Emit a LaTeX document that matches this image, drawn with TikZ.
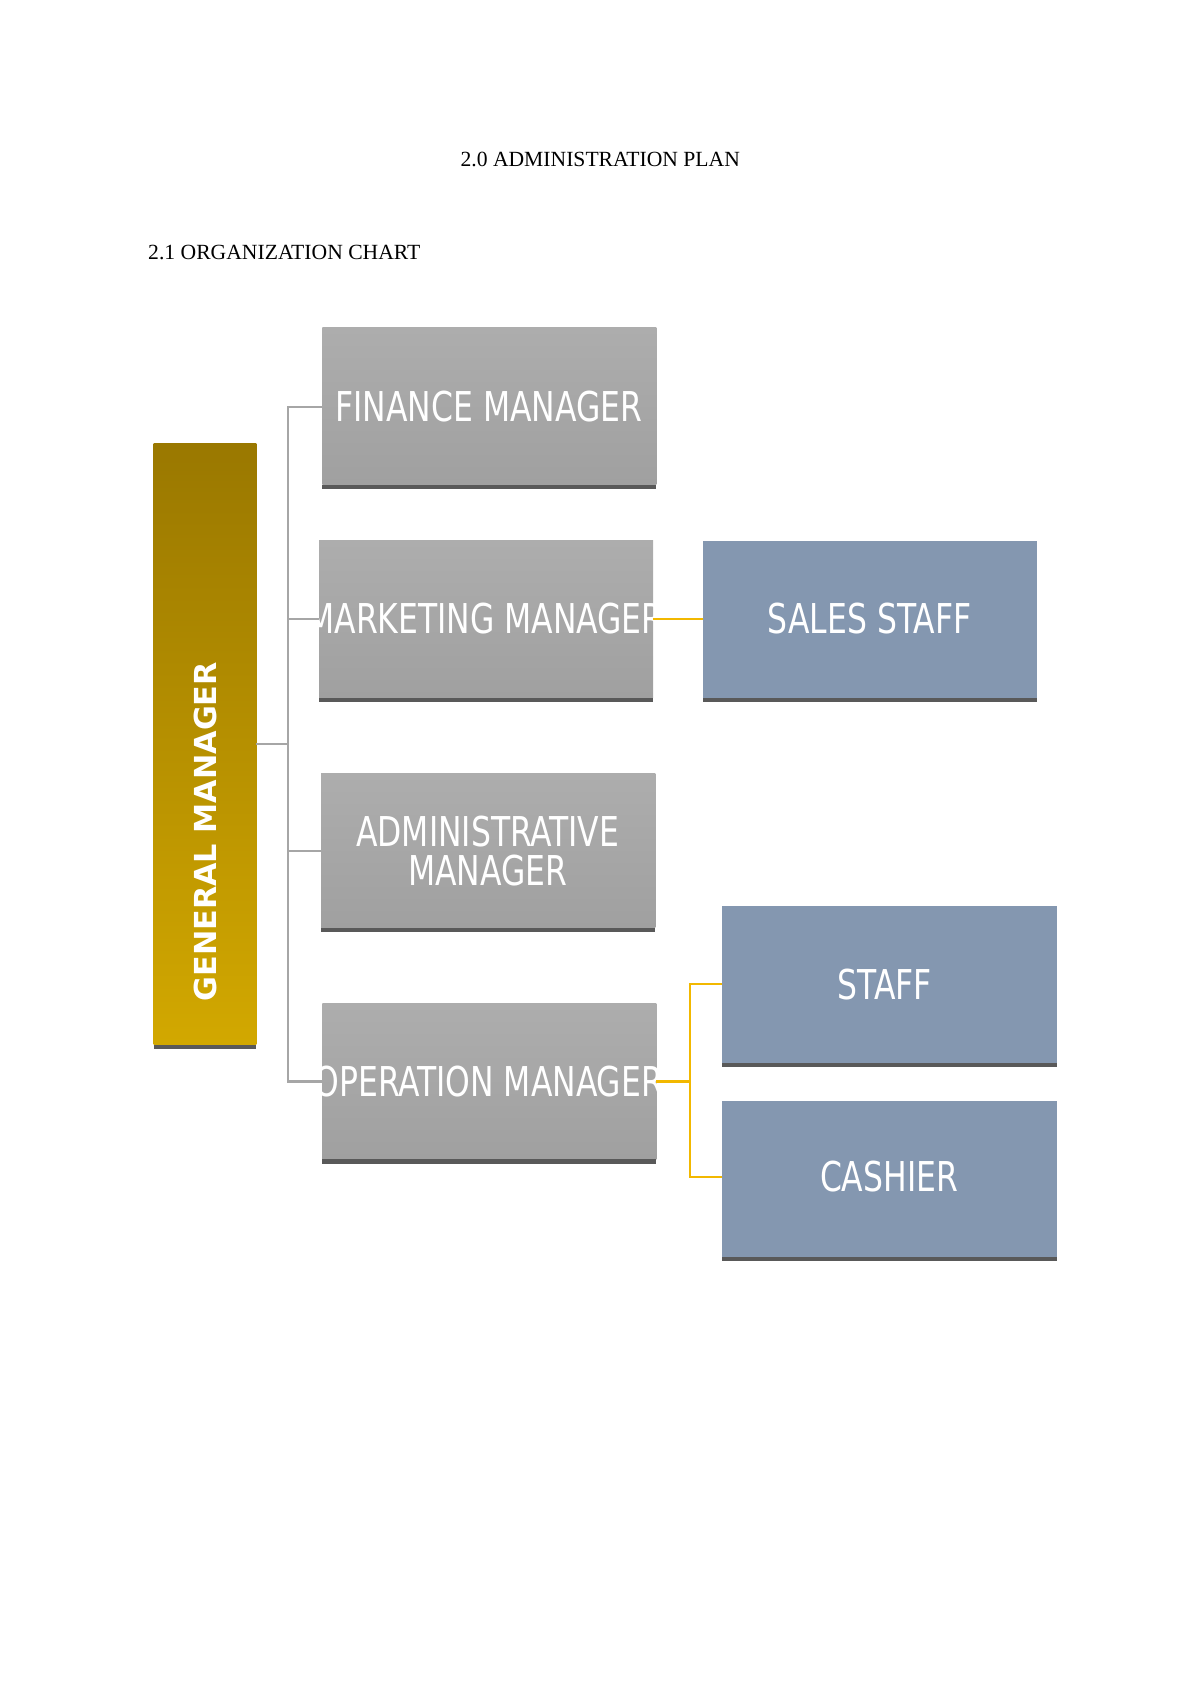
\documentclass[tikz,border=0pt]{standalone}
\usepackage{fontspec}
\setmainfont{Liberation Serif}
\newfontfamily\boxfont{DejaVu Sans Condensed}
\newfontfamily\gmfont{DejaVu Sans}
\begin{document}
\begin{tikzpicture}[x=0.5pt,y=-0.5pt,
  gbox/.style={top color=gbtop,bottom color=gbbot,draw=none},
  bbox/.style={fill=bluebox,draw=none},
  shad/.style={draw=shadowc,line width=2pt},
  lbl/.style={text=white,font=\boxfont\fontsize{19}{22}\selectfont,xscale=0.85,align=center},
  gline/.style={draw=linegray,line width=1pt},
  yline/.style={draw=linegold,line width=1pt}]
\definecolor{gbtop}{HTML}{ADADAD}
\definecolor{gbbot}{HTML}{A0A0A0}
\definecolor{bluebox}{HTML}{8497B0}
\definecolor{shadowc}{HTML}{595959}
\definecolor{linegray}{HTML}{A6A6A6}
\definecolor{linegold}{HTML}{F2B800}
\definecolor{gmtop}{HTML}{9A7800}
\definecolor{gmbot}{HTML}{D2A800}
\useasboundingbox (0,0) rectangle (1110,1570);
\node[font=\fontsize{10}{12}\selectfont] (t1) at (555,147) {2.0 ADMINISTRATION PLAN};
\node[font=\fontsize{10}{12}\selectfont,anchor=west] (t2) at (130,233) {2.1 ORGANIZATION CHART};
% GM
\shade[top color=gmtop,bottom color=gmbot] (142,410) rectangle (237,966);
\draw[shad] (142,968) -- (237,968);
\node[rotate=90,text=white,font=\gmfont\bfseries\fontsize{14}{16}\selectfont,xscale=1] (gm) at (190,769) {GENERAL MANAGER};
\coordinate (gmr) at (237,688);
% gray boxes
\shade[gbox] (298,303) rectangle (607,448); \draw[shad] (298,450) -- (607,450);
\node[lbl] (fm) at (452,376) {FINANCE MANAGER};
\shade[gbox] (295,500) rectangle (604,645); \draw[shad] (295,647) -- (604,647);
\node[lbl] (mm) at (449,572) {MARKETING MANAGER};
\shade[gbox] (297,715) rectangle (606,858); \draw[shad] (297,860) -- (606,860);
\node[lbl] (am) at (451,787) {ADMINISTRATIVE\\[-4pt]MANAGER};
\shade[gbox] (298,928) rectangle (607,1072); \draw[shad] (298,1074) -- (607,1074);
\node[lbl] (om) at (452,1000) {OPERATION MANAGER};
% blue boxes
\fill[bbox] (650,500) rectangle (959,645); \draw[shad] (650,647) -- (959,647);
\node[lbl] (ss) at (804,572) {SALES STAFF};
\fill[bbox] (668,838) rectangle (977,983); \draw[shad] (668,985) -- (977,985);
\node[lbl] (st) at (818,910) {STAFF};
\fill[bbox] (668,1018) rectangle (977,1162); \draw[shad] (668,1164) -- (977,1164);
\node[lbl] (ca) at (822,1088) {CASHIER};
% connectors
\coordinate (fml) at (298,376); \coordinate (mml) at (295,572);
\coordinate (aml) at (297,787); \coordinate (oml) at (298,1000);
\draw[gline] (gmr) -- (266,688);
\draw[gline] (fml) -- (266,376) -- (266,1000) -- (oml);
\draw[gline] (266,572) -- (mml);
\draw[gline] (266,787) -- (aml);
\coordinate (mmr) at (604,572); \coordinate (ssl) at (650,572);
\draw[yline] (mmr) -- (ssl);
\coordinate (omr) at (607,1000); \coordinate (stl) at (668,910); \coordinate (cal) at (668,1088);
\draw[yline] (omr) -- (638,1000);
\draw[yline] (stl) -- (638,910) -- (638,1088) -- (cal);
\end{tikzpicture}
\end{document}
